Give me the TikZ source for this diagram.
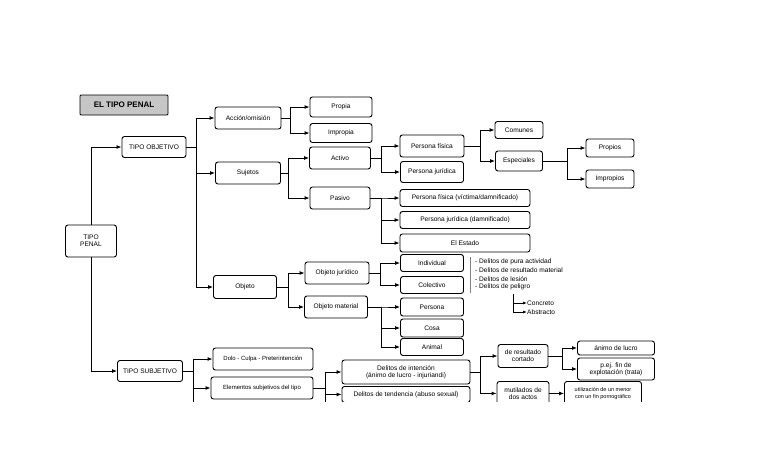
\documentclass[tikz,border=0pt]{standalone}
\usepackage{fontspec}
\setmainfont{Liberation Sans}
\usetikzlibrary{arrows.meta}
\begin{document}
\begin{tikzpicture}[x=1pt,y=-1pt,
 b/.style={draw,line width=0.9pt,rounded corners=2.5pt,inner sep=1pt,align=center,font=\fontsize{6.6}{7.2}\selectfont},
 ar/.style={-{Latex[length=5pt,width=4pt]},line width=0.9pt},
 ln/.style={line width=0.9pt},
 t/.style={font=\fontsize{6.6}{7}\selectfont,inner sep=0pt,anchor=west}]
\useasboundingbox (0,0) rectangle (768,466);
\begin{scope}
\clip (0,0) rectangle (768,401);
\node[b,fill=gray!45,minimum width=88,minimum height=20,font=\bfseries\fontsize{8}{9}\selectfont,rounded corners=1pt] (title) at (124,105) {EL TIPO PENAL};
\node[b,minimum width=51,minimum height=32] (tp) at (91,241) {TIPO\\PENAL};
\node[b,minimum width=64,minimum height=21] (to) at (154,147) {TIPO OBJETIVO};
\node[b,minimum width=65,minimum height=21] (ts) at (150,371) {TIPO SUBJETIVO};
\node[b,minimum width=66,minimum height=22] (ao) at (248,118) {Acción/omisión};
\node[b,minimum width=65,minimum height=22] (su) at (248,173) {Sujetos};
\node[b,minimum width=63,minimum height=23] (ob) at (245,287) {Objeto};
\node[b,minimum width=62,minimum height=20] (pr) at (341,107) {Propia};
\node[b,minimum width=62,minimum height=19] (im) at (341,133) {Impropia};
\node[b,minimum width=61,minimum height=22] (ac) at (340,158) {Activo};
\node[b,minimum width=60,minimum height=22] (pa) at (340,198) {Pasivo};
\node[b,minimum width=64,minimum height=22] (oj) at (337,273) {Objeto jurídico};
\node[b,minimum width=63,minimum height=22] (om) at (336,307) {Objeto material};
\node[b,minimum width=64,minimum height=22] (pf) at (432,146) {Persona física};
\node[b,minimum width=63,minimum height=21] (pj) at (432,172) {Persona jurídica};
\node[b,minimum width=130,minimum height=17] (pfv) at (465,198) {Persona física (víctima/damnificado)};
\node[b,minimum width=130,minimum height=17] (pjd) at (465,220) {Persona jurídica (damnificado)};
\node[b,minimum width=130,minimum height=18] (es) at (465,243) {El Estado};
\node[b,minimum width=63,minimum height=17] (ind) at (432,263) {Individual};
\node[b,minimum width=63,minimum height=17] (col) at (432,285) {Colectivo};
\node[b,minimum width=63,minimum height=18] (per) at (432,307) {Persona};
\node[b,minimum width=63,minimum height=18] (cos) at (432,328) {Cosa};
\node[b,minimum width=63,minimum height=17] (ani) at (432,347) {Animal};
\node[b,minimum width=48,minimum height=17] (com) at (519,130) {Comunes};
\node[b,minimum width=47,minimum height=20] (esp) at (519,161) {Especiales};
\node[b,minimum width=48,minimum height=18] (pro) at (610,148) {Propios};
\node[b,minimum width=48,minimum height=18] (imp) at (610,179) {Impropios};
\node[b,minimum width=100,minimum height=22,font=\fontsize{6}{7}\selectfont] (dolo) at (263,359) {Dolo - Culpa - Preterintención};
\node[b,minimum width=102,minimum height=22,font=\fontsize{6}{7}\selectfont] (el) at (262,388) {Elementos subjetivos del tipo};
\node[b,minimum width=128,minimum height=24] (di) at (406,372) {Delitos de intención\\(ánimo de lucro - injuriandi)};
\node[b,minimum width=128,minimum height=16,anchor=north] (dt) at (406,386) {Delitos de tendencia (abuso sexual)};
\node[b,minimum width=50,minimum height=23] (rc) at (523,356) {de resultado\\cortado};
\node[b,minimum width=77,minimum height=14] (al) at (616,348) {ánimo de lucro};
\node[b,minimum width=77,minimum height=22] (pe) at (616,369) {p.ej. fin de\\explotación (trata)};
\node[b,minimum width=52,minimum height=24,anchor=north] (mu) at (523,381) {mutilados de\\dos actos};
\node[b,minimum width=77,minimum height=24,anchor=north,font=\fontsize{5.5}{6.5}\selectfont] (ut) at (603,381) {utilización de un menor\\con un fin pornográfico};
% list
\node[t] (l1) at (475,262) {- Delitos de pura actividad};
\node[t] (l2) at (475,270) {- Delitos de resultado material};
\node[t] (l3) at (475,279) {- Delitos de lesión};
\node[t] (l4) at (475,287) {- Delitos de peligro};
\draw[line width=0.5pt,gray] (470,257) -- (470,293);
\node[t] (cn) at (527,303) {Concreto};
\node[t] (ab) at (527,312) {Abstracto};
\coordinate (br) at (513,294);
\draw[ar,-{Latex[length=4pt,width=3pt]}] (br) |- (cn.west);
\draw[ar,-{Latex[length=4pt,width=3pt]}] (br) |- (ab.west);
% connectors
\draw[ar] (tp.north) |- (to.west);
\draw[ar] (tp.south) |- (ts.west);
\foreach \c in {ao,su,ob} \draw[ar] (to.east) -- (196,147) |- (\c.west);
\foreach \c in {pr,im} \draw[ar] (ao.east) -- (290,118) |- (\c.west);
\foreach \c in {ac,pa} \draw[ar] (su.east) -- (288,173) |- (\c.west);
\foreach \c in {oj,om} \draw[ar] (ob.east) -- (288,287) |- (\c.west);
\foreach \c in {pf,pj} \draw[ar] (ac.east) -- (381,158) |- (\c.west);
\foreach \c in {pfv,pjd,es} \draw[ar] (pa.east) -- (381,198) |- (\c.west);
\foreach \c in {ind,col} \draw[ar] (oj.east) -- (380,273) |- (\c.west);
\foreach \c in {per,cos,ani} \draw[ar] (om.east) -- (381,307) |- (\c.west);
\foreach \c in {com,esp} \draw[ar] (pf.east) -- (480,146) |- (\c.west);
\foreach \c in {pro,imp} \draw[ar] (esp.east) -- (567,161) |- (\c.west);
\foreach \c in {dolo,el} \draw[ar] (ts.east) -- (193,371) |- (\c.west);
\coordinate (tsend) at (193,410);
\draw[ln] (ts.east) -| (tsend);
\foreach \c in {di,dt} \draw[ar] (el.east) -- (325,388) |- (\c.west);
\coordinate (elend) at (325,410);
\draw[ln] (el.east) -| (elend);
\foreach \c in {rc,mu} \draw[ar] (di.east) -- (480,372) |- (\c.west);
\foreach \c in {al,pe} \draw[ar] (rc.east) -- (562,356) |- (\c.west);
\draw[ar] (mu.east |- ut.west) -- (ut.west);
\end{scope}
\end{tikzpicture}
\end{document}
